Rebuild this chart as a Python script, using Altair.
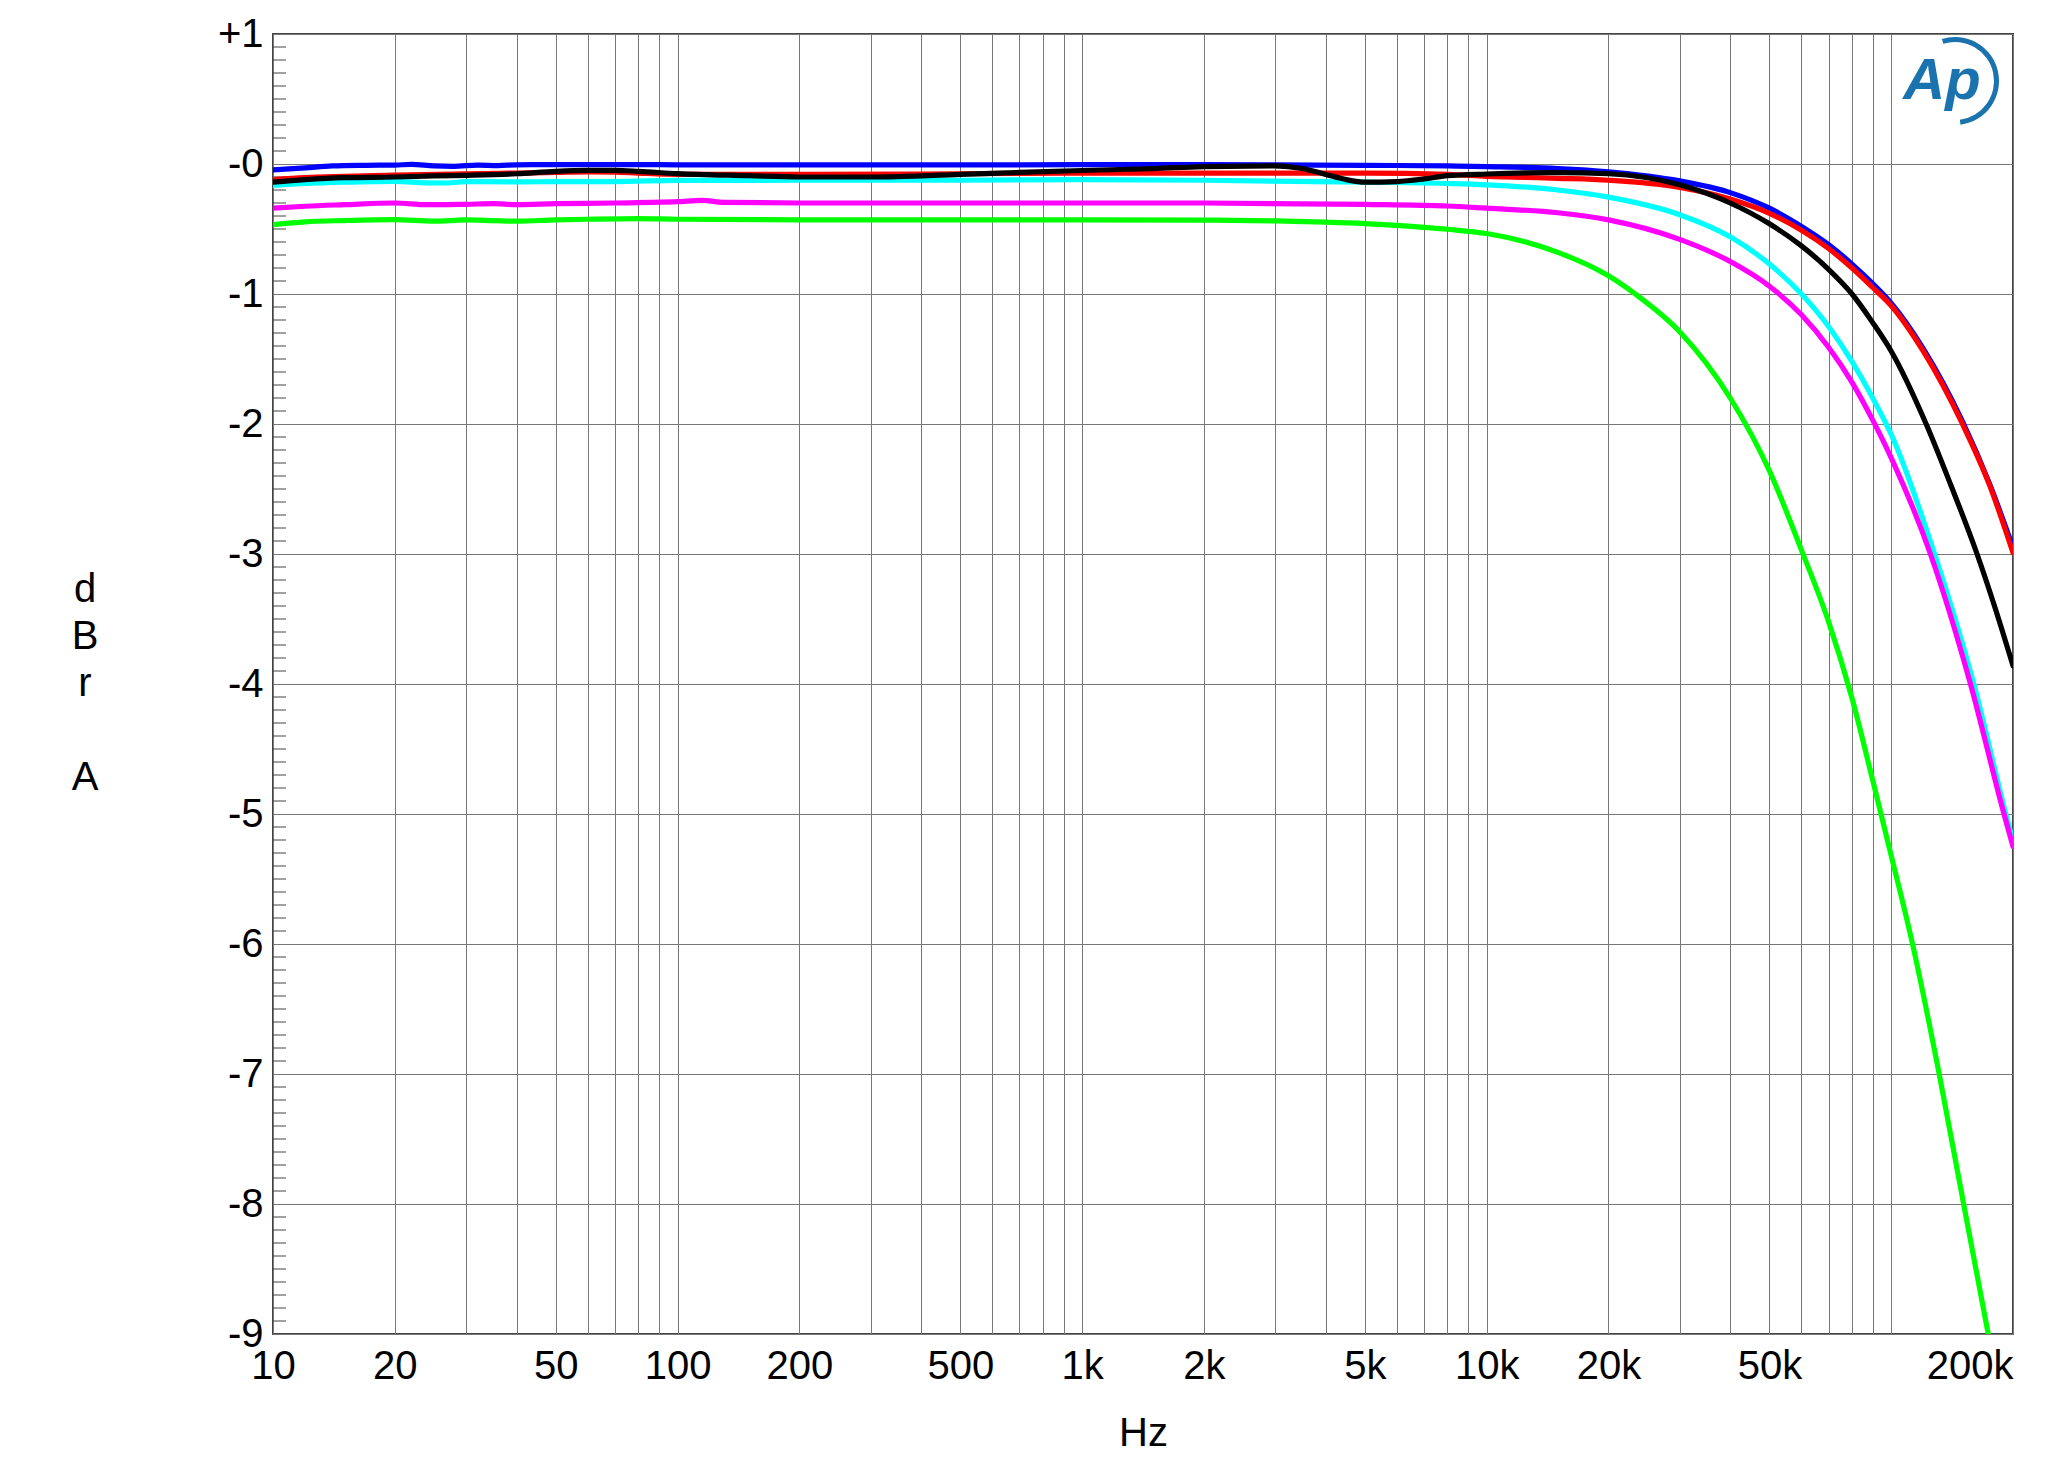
import altair as alt
import pandas as pd

# ---------------- data ----------------
blue_f = [10, 12, 14, 17, 20, 22, 25, 28, 32, 36, 40, 50, 60, 80, 100, 200, 500, 1000, 2000, 3000, 5000, 8000,
          10000, 15000, 20000, 30000, 40000, 50000, 60000, 70000, 80000, 90000, 100000, 120000, 150000, 175000, 200000]
blue_db = [-0.045, -0.03, -0.015, -0.01, -0.008, -0.003, -0.015, -0.018, -0.008, -0.012, -0.006, -0.005, -0.005,
           -0.005, -0.006, -0.006, -0.007, -0.005, -0.005, -0.007, -0.01, -0.015, -0.02, -0.035, -0.06, -0.13,
           -0.22, -0.34, -0.48, -0.62, -0.77, -0.92, -1.07, -1.42, -1.98, -2.46, -2.95]

red_f = [10, 12, 15, 20, 30, 40, 50, 60, 70, 80, 100, 200, 500, 1000, 2000, 5000, 8000, 10000, 15000, 20000,
         30000, 40000, 50000, 60000, 70000, 80000, 90000, 100000, 120000, 150000, 175000, 200000]
red_db = [-0.12, -0.105, -0.095, -0.085, -0.075, -0.07, -0.065, -0.06, -0.062, -0.07, -0.08, -0.08, -0.075,
          -0.07, -0.07, -0.07, -0.08, -0.095, -0.11, -0.125, -0.18, -0.27, -0.38, -0.51, -0.65, -0.8, -0.95,
          -1.09, -1.44, -2.0, -2.47, -2.99]

black_f = [10, 12, 15, 20, 25, 30, 40, 50, 60, 70, 80, 100, 150, 200, 300, 500, 700, 1000, 1500, 2000, 3000,
           3500, 4000, 4500, 5000, 6000, 7000, 8000, 10000, 15000, 20000, 30000, 40000, 50000, 60000, 70000,
           80000, 90000, 100000, 122000, 140000, 163000, 180000, 200000]
black_db = [-0.14, -0.12, -0.105, -0.1, -0.092, -0.087, -0.075, -0.056, -0.049, -0.049, -0.056, -0.074, -0.09,
            -0.1, -0.1, -0.08, -0.065, -0.05, -0.035, -0.02, -0.015, -0.035, -0.08, -0.12, -0.14, -0.135,
            -0.115, -0.09, -0.077, -0.066, -0.075, -0.16, -0.3, -0.46, -0.63, -0.81, -1.0, -1.22, -1.44, -2.0,
            -2.46, -3.0, -3.4, -3.86]

cyan_f = [10, 12, 15, 20, 24, 27, 30, 40, 50, 70, 100, 200, 500, 1000, 2000, 5000, 8000, 10000, 15000, 20000,
          30000, 40000, 50000, 60000, 70000, 80000, 90000, 100000, 128000, 160000, 192000, 200000]
cyan_db = [-0.164, -0.15, -0.14, -0.133, -0.145, -0.146, -0.135, -0.138, -0.135, -0.135, -0.126, -0.125,
           -0.125, -0.12, -0.125, -0.14, -0.15, -0.16, -0.2, -0.255, -0.39, -0.56, -0.77, -1.0, -1.25, -1.52,
           -1.8, -2.08, -3.0, -4.0, -5.0, -5.21]

magenta_f = [10, 12, 15, 20, 24, 27, 30, 35, 40, 50, 70, 100, 115, 130, 200, 500, 1000, 2000, 5000, 8000,
             10000, 15000, 20000, 30000, 40000, 50000, 60000, 70000, 80000, 90000, 100000, 125000, 157000,
             190000, 200000]
magenta_db = [-0.34, -0.325, -0.313, -0.3, -0.313, -0.312, -0.31, -0.305, -0.312, -0.305, -0.3, -0.29, -0.28,
              -0.295, -0.3, -0.3, -0.3, -0.3, -0.31, -0.323, -0.34, -0.375, -0.43, -0.58, -0.75, -0.94, -1.16,
              -1.41, -1.68, -1.97, -2.26, -3.0, -4.0, -5.0, -5.25]

green_f = [10, 12, 15, 20, 25, 30, 35, 40, 50, 60, 80, 100, 200, 500, 1000, 2000, 3000, 4000, 5000, 6000, 8000,
           10000, 15000, 20000, 23300, 30000, 40000, 50000, 60000, 70000, 80000, 90000, 100000, 112900, 131400,
           151000, 173700]
green_db = [-0.467, -0.445, -0.435, -0.428, -0.44, -0.43, -0.435, -0.44, -0.43, -0.425, -0.42, -0.425, -0.43,
            -0.43, -0.43, -0.432, -0.438, -0.447, -0.458, -0.472, -0.502, -0.535, -0.68, -0.86, -1.0, -1.29, -1.8,
            -2.36, -2.97, -3.52, -4.11, -4.74, -5.32, -6.0, -7.0, -8.0, -9.0]

# drawing order (first drawn at the bottom)
series = [
    ("blue", blue_f, blue_db, "#0000ff"),
    ("red", red_f, red_db, "#ff0000"),
    ("cyan", cyan_f, cyan_db, "#00ffff"),
    ("magenta", magenta_f, magenta_db, "#ff00ff"),
    ("black", black_f, black_db, "#000000"),
    ("green", green_f, green_db, "#00ff00"),
]

x_labels = [10, 20, 50, 100, 200, 500, 1000, 2000, 5000, 10000, 20000, 50000, 200000]
y_ticks = list(range(-9, 2))
y_title_top = "d\nB\nr"
y_title_bottom = "A"

# grid positions: 1..9 x each decade
x_grid = []
for dec in [10, 100, 1000, 10000, 100000]:
    for m in range(1, 10):
        v = dec * m
        if v <= 200000:
            x_grid.append(v)

minor_y = [i / 10 for i in range(-90, 10) if i % 10 != 0]

# ---------------- chart ----------------
FONT = "Liberation Sans"
FS = 40
W, H = 1740, 1300

xscale = alt.Scale(type="log", domain=[10, 200000], nice=False)
yscale = alt.Scale(domain=[-9, 1], nice=False, zero=False)

label_test = " || ".join(f"abs(datum.value - {v}) < 0.5" for v in x_labels)
x_axis = alt.Axis(
    values=x_grid, grid=True, gridColor="#777777", gridWidth=1, ticks=False, domain=False,
    labelExpr=f"({label_test}) ? (datum.value >= 1000 ? format(datum.value/1000, 'd') + 'k' : format(datum.value, 'd')) : ''",
    labelOverlap=False, labelBound=False, labelFlush=False,
    labelFont=FONT, labelFontSize=FS, labelColor="black", labelPadding=12,
    labelAlign={"condition": {"test": "datum.value >= 150000", "value": "right"}, "value": "center"},
    title="Hz", titleFont=FONT, titleFontSize=FS, titleFontWeight="normal", titleColor="black",
    titleY=99, titleBaseline="middle",
)
y_axis = alt.Axis(
    values=y_ticks, grid=True, gridColor="#777777", gridWidth=1, ticks=False, domain=False,
    labelExpr="datum.value > 0 ? '+' + format(datum.value, 'd') : '-' + format(abs(datum.value), 'd')",
    labelFont=FONT, labelFontSize=FS, labelColor="black", labelPadding=10, labelOverlap=False,
    title=None,
)

# minor ticks on the left edge (inside)
minor_df = pd.DataFrame({"db": minor_y})
minor = alt.Chart(minor_df).mark_rule(color="#444444", strokeWidth=1).encode(
    y=alt.Y("db:Q", scale=yscale, axis=y_axis),
    x=alt.value(0), x2=alt.value(13),
)

layers = [minor]
for name, fs, dbs, col in series:
    df = pd.DataFrame({"f": fs, "db": dbs})
    layers.append(
        alt.Chart(df).mark_line(color=col, strokeWidth=5.2, interpolate="monotone", clip=True,
                                strokeCap="round", strokeJoin="round").encode(
            x=alt.X("f:Q", scale=xscale, axis=x_axis),
            y=alt.Y("db:Q", scale=yscale, axis=y_axis),
        )
    )

# vertical stacked y-axis title "dBr  A"
ytitle1 = alt.Chart(alt.Data(values=[{"t": y_title_top}])).mark_text(
    font=FONT, fontSize=FS, color="black", align="center", baseline="middle",
    lineBreak="\n", lineHeight=47,
).encode(text="t:N", x=alt.value(-188), y=alt.value(556))
ytitle2 = alt.Chart(alt.Data(values=[{"t": y_title_bottom}])).mark_text(
    font=FONT, fontSize=FS, color="black", align="center", baseline="middle",
).encode(text="t:N", x=alt.value(-188), y=alt.value(744))

# Audio Precision logo
logo_text = alt.Chart(alt.Data(values=[{"t": "Ap"}])).mark_text(
    font="Liberation Sans", fontSize=58, fontStyle="italic", fontWeight="bold", color="#1a72ae",
    align="center", baseline="middle",
).encode(text="t:N", x=alt.value(1669), y=alt.value(48))
logo_arc = alt.Chart(alt.Data(values=[{"a": 1}])).mark_arc(color="#1a72ae").encode(
    x=alt.value(1682), y=alt.value(47), theta=alt.value(5.98), theta2=alt.value(9.3),
    radius=alt.value(44), radius2=alt.value(39),
)
layers += [ytitle1, ytitle2, logo_text, logo_arc]

chart = alt.layer(*layers).properties(
    width=W, height=H,
    padding={"left": 265, "top": 26, "right": 10, "bottom": 135},
    autosize=alt.AutoSizeParams(type="none"),
    background="white",
).configure_view(stroke="#444444", strokeWidth=2)

chart.save("out.html", embed_options={"renderer": "svg", "actions": False})
